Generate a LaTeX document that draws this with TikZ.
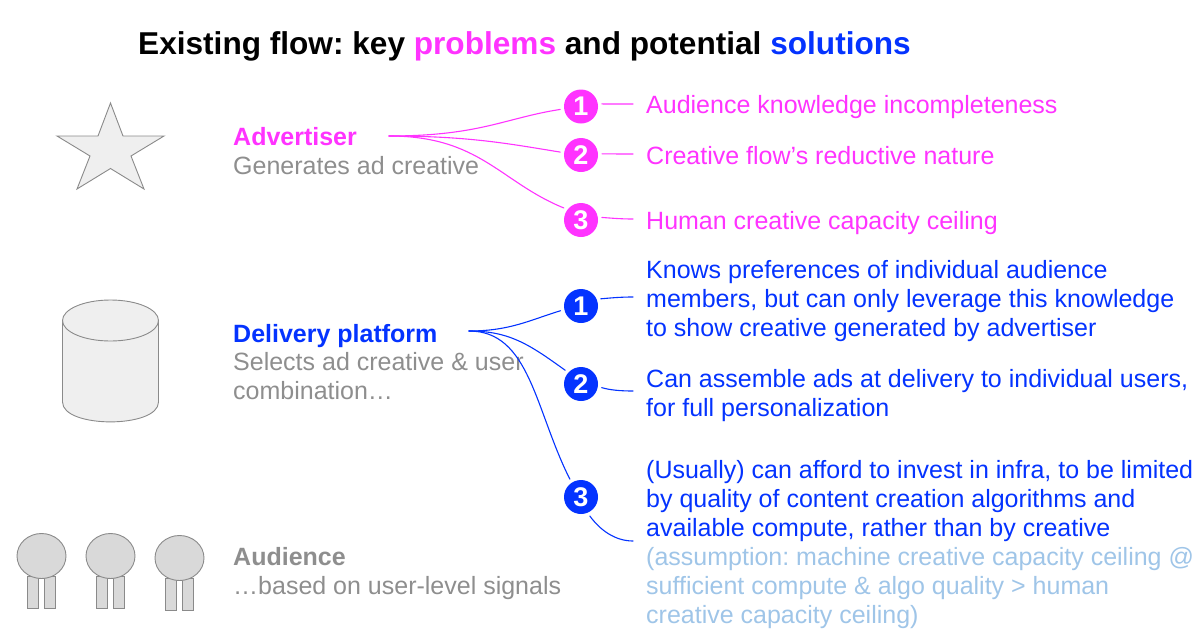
\documentclass[tikz,border=0pt]{standalone}
\usepackage{fontspec}
\setmainfont{Liberation Sans}
\frenchspacing
\definecolor{mag}{HTML}{FF33FF}
\definecolor{blu}{HTML}{0433FF}
\definecolor{gry}{HTML}{8E8E8E}
\definecolor{lbl}{HTML}{9FC5E8}
\definecolor{edge}{HTML}{8A8A8A}
\definecolor{pale}{HTML}{EFEFEF}
\definecolor{midg}{HTML}{D9D9D9}
\tikzset{
  x=1pt,y=-1pt,
  shape3/.style={draw=edge,fill=pale,line width=0.9pt,line join=miter},
  person/.style={draw=edge,fill=midg,line width=0.9pt},
  lab/.style={anchor=base west,inner sep=0pt,font=\fontsize{25}{29}\selectfont,align=left},
  ttl/.style={anchor=base west,inner sep=0pt,font=\fontsize{31.6}{36}\selectfont\bfseries},
  item/.style={anchor=west,inner sep=0pt,inner xsep=13pt,font=\fontsize{25}{29}\selectfont,align=left},
  num/.style={circle,minimum size=34pt,inner sep=0pt,outer sep=4pt,text=white,font=\fontsize{27}{29}\selectfont\bfseries},
  numM/.style={num,fill=mag},
  numB/.style={num,fill=blu},
  con/.style={line width=1.1pt,line cap=round}
}
\begin{document}
\begin{tikzpicture}
\useasboundingbox (0,0) rectangle (1200,643);
% title
\node[ttl] (title) at (138,54) {Existing flow: key \textcolor{mag}{problems} and potential \textcolor{blu}{solutions}};
% star
\draw[shape3] (110.5,103) -- (123,136) -- (164,136) -- (131,156) -- (144,189) -- (110.5,168.5) -- (77,189) -- (90,156) -- (57,136) -- (98,136) -- cycle;
% cylinder
\draw[shape3] (62.5,320.5) -- (62.5,402) .. controls (62.5,428.5) and (158.5,428.5) .. (158.5,402) -- (158.5,320.5) -- cycle;
\draw[shape3] (110.5,320.5) ellipse[x radius=48,y radius=20.5];
% people
\foreach \cx/\cy in {41.5/556,110.5/556,179.5/558}{
  \draw[person] (\cx-14.5,\cy+20) rectangle (\cx-3,\cy+52);
  \draw[person] (\cx+2.5,\cy+20) rectangle (\cx+14,\cy+52);
  \draw[person] (\cx,\cy) ellipse[x radius=24.5,y radius=22.5];
}
% left labels
\node[lab,text=mag] (adv) at (233,145) {\bfseries Advertiser};
\node[lab,text=gry] (advs) at (233,174) {Generates ad creative};
\node[lab,text=blu] (del) at (233,342) {\bfseries Delivery platform};
\node[lab,text=gry,anchor=north west] (dels) at (233,352) {Selects ad creative \& user\\combination…};
\node[lab,text=gry] (aud) at (233,565) {\bfseries Audience};
\node[lab,text=gry] (auds) at (233,594) {…based on user-level signals};
% source points
\coordinate (advsrc) at (389,136);
\coordinate (delsrc) at (469,331);
% number circles
\node[numM] (m1) at (581,106.5) {1};
\node[numM] (m2) at (581,155) {2};
\node[numM] (m3) at (581,220) {3};
\node[numB] (b1) at (581,306) {1};
\node[numB] (b2) at (581,384) {2};
\node[numB] (b3) at (581,497) {3};
% items
\node[item,text=mag] (tm1) at (633,107) {Audience knowledge incompleteness};
\node[item,text=mag] (tm2) at (633,156) {Creative flow’s reductive nature};
\node[item,text=mag] (tm3) at (633,223) {Human creative capacity ceiling};
\node[item,text=blu] (tb1) at (633,301) {Knows preferences of individual audience\\members, but can only leverage this knowledge\\to show creative generated by advertiser};
\node[item,text=blu] (tb2) at (633,395.5) {Can assemble ads at delivery to individual users,\\for full personalization};
\node[item,text=blu] (tb3) at (633,545) {(Usually) can afford to invest in infra, to be limited\\by quality of content creation algorithms and\\available compute, rather than by creative\\\textcolor{lbl}{(assumption: machine creative capacity ceiling @}\\\textcolor{lbl}{sufficient compute \& algo quality > human}\\\textcolor{lbl}{creative capacity ceiling)}};
% connectors
\begin{scope}[con,draw=mag]
\draw (advsrc) .. controls (480,136) and (505,118) .. (m1.188);
\draw (advsrc) .. controls (470,136) and (510,144) .. (m2.172);
\draw (advsrc) .. controls (480,136) and (500,182) .. (m3.145);
\draw (m1.7) .. controls (610,104) and (620,104) .. ([yshift=3pt]tm1.west);
\draw (m2.3) -- ([yshift=2pt]tm2.west);
\draw (m3.7) .. controls (610,218) and (620,219) .. ([yshift=4pt]tm3.west);
\end{scope}
\begin{scope}[con,draw=blu]
\draw (delsrc) .. controls (510,331) and (530,320) .. (b1.193);
\draw (delsrc) .. controls (510,331) and (530,345) .. (b2.139);
\draw (delsrc) .. controls (530,331) and (535,410) .. (b3.122);
\draw (b1.20) .. controls (610,298) and (620,297) .. ([yshift=4pt]tb1.west);
\draw (b2.-10) .. controls (610,390) and (620,391) .. ([yshift=4.5pt]tb2.west);
\draw (b3.-65) .. controls (600,530) and (615,541) .. ([yshift=4pt]tb3.west);
\end{scope}
\end{tikzpicture}
\end{document}
